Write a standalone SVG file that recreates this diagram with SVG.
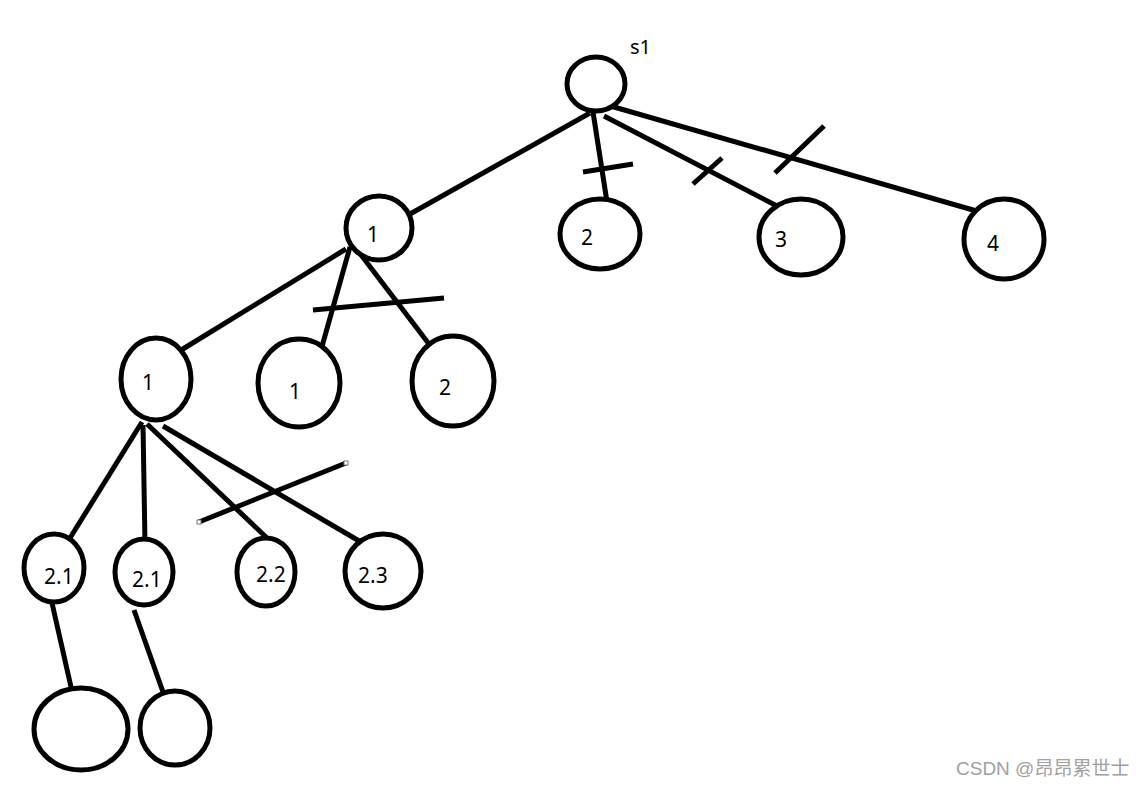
<svg xmlns="http://www.w3.org/2000/svg" width="1143" height="787" viewBox="0 0 1143 787">
<style>
.n{fill:#fff;stroke:#000;stroke-width:5}
.e{stroke:#000;stroke-width:5;fill:none;stroke-linecap:butt}
.t{font-family:"Noto Sans","Liberation Sans",sans-serif;font-size:21px;fill:#000}
.h{fill:#fff;stroke:#777;stroke-width:1}
.w{font-family:"Liberation Sans","Noto Sans CJK SC",sans-serif;font-size:19px;fill:#a0a0a0}
</style>
<rect width="1143" height="787" fill="#fff"/>
<g id="connectors">
<line class="e" x1="590" y1="113" x2="410" y2="214"/>
<line class="e" x1="593" y1="112" x2="607" y2="202"/>
<line class="e" x1="583" y1="172" x2="633" y2="164"/>
<line class="e" x1="604" y1="116" x2="777" y2="206"/>
<line class="e" x1="693" y1="184" x2="722" y2="158"/>
<line class="e" x1="607" y1="105" x2="980" y2="212"/>
<line class="e" x1="775" y1="173" x2="824" y2="126"/>
<line class="e" x1="346" y1="249" x2="178" y2="352"/>
<line class="e" x1="350" y1="247" x2="321" y2="350"/>
<line class="e" x1="355" y1="247" x2="429" y2="344"/>
<line class="e" x1="313" y1="310" x2="444" y2="298"/>
<line class="e" x1="142" y1="422" x2="70" y2="538"/>
<line class="e" x1="143" y1="425" x2="145" y2="543"/>
<line class="e" x1="147" y1="424" x2="267" y2="538"/>
<line class="e" x1="163" y1="426" x2="366" y2="545"/>
<line class="e" x1="199" y1="522" x2="346" y2="463"/>
<rect class="h" x="197" y="520" width="4" height="4"/>
<rect class="h" x="344" y="461" width="4" height="4"/>
<line class="e" x1="52" y1="603" x2="71" y2="687"/>
<line class="e" x1="134" y1="610" x2="163" y2="692"/>
</g>
<g id="s1"><ellipse class="n" cx="596" cy="84" rx="29" ry="27"/><text class="t" x="630" y="54" style="font-size:20px">s1</text></g>
<g id="n1"><ellipse class="n" cx="379" cy="228" rx="33" ry="32"/><text class="t" x="367" y="242">1</text></g>
<g id="n2"><ellipse class="n" cx="600" cy="234" rx="40" ry="35"/><text class="t" x="581" y="245">2</text></g>
<g id="n3"><ellipse class="n" cx="801" cy="237" rx="42" ry="38"/><text class="t" x="775" y="247">3</text></g>
<g id="n4"><ellipse class="n" cx="1004" cy="239" rx="40" ry="40"/><text class="t" x="987" y="251">4</text></g>
<g id="n11"><ellipse class="n" cx="156" cy="379" rx="35" ry="41"/><text class="t" x="142" y="390">1</text></g>
<g id="n12"><ellipse class="n" cx="299" cy="383" rx="41" ry="44"/><text class="t" x="289" y="399">1</text></g>
<g id="n13"><ellipse class="n" cx="453" cy="381" rx="41" ry="45"/><text class="t" x="439" y="395">2</text></g>
<g id="n211a"><ellipse class="n" cx="54" cy="568" rx="30" ry="34"/><text class="t" x="44" y="584">2.1</text></g>
<g id="n211b"><ellipse class="n" cx="144" cy="572" rx="29" ry="33"/><text class="t" x="132" y="587">2.1</text></g>
<g id="n22"><ellipse class="n" cx="266" cy="572" rx="29" ry="34"/><text class="t" x="256" y="582">2.2</text></g>
<g id="n23"><ellipse class="n" cx="383" cy="571" rx="38" ry="37"/><text class="t" x="358" y="583">2.3</text></g>
<g id="b1"><ellipse class="n" cx="81" cy="729" rx="47" ry="41"/></g>
<g id="b2"><ellipse class="n" cx="175" cy="728" rx="35" ry="37"/></g>
<text class="w" x="956" y="775">CSDN @昂昂累世士</text>
</svg>
